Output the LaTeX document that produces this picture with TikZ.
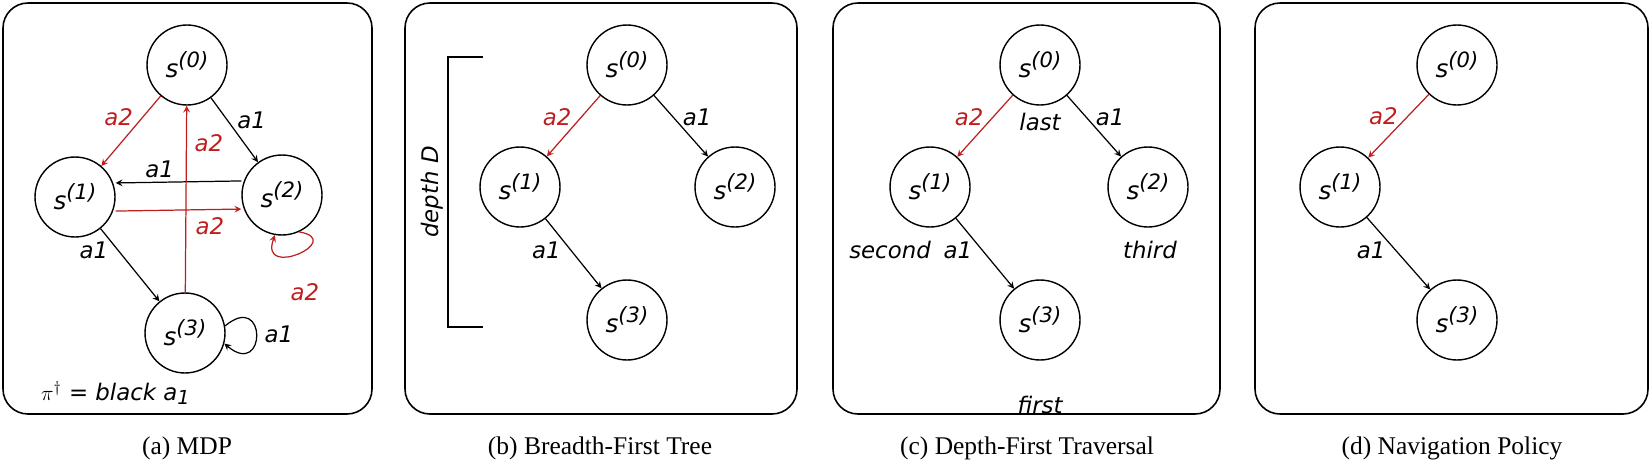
\documentclass[tikz,border=0pt]{standalone}
\usepackage{fontspec}
\setmainfont{Liberation Serif}
\newfontfamily\lbl{DejaVu Sans}
\definecolor{myred}{RGB}{190,30,30}
\begin{document}
\begin{tikzpicture}[x=0.02cm,y=-0.02cm,>=stealth,
  st/.style={draw,circle,line width=0.8pt,minimum size=1.6cm,inner sep=0pt,font=\lbl\itshape\fontsize{14}{14}\selectfont},
  box/.style={draw,rounded corners=0.5cm,line width=0.9pt},
  ed/.style={->,line width=0.7pt},
  rd/.style={ed,draw=myred},
  lb/.style={font=\lbl\itshape\fontsize{13}{13}\selectfont},
  rl/.style={lb,text=myred},
  capt/.style={font=\fontsize{14.5}{14.5}\selectfont}]
\useasboundingbox (0,0) rectangle (1652,470);
\newcommand{\sx}[1]{s\raisebox{0.75ex}{\fontsize{12}{12}\selectfont(#1)}}
\newcommand{\ax}[1]{a\raisebox{-0.3ex}{\fontsize{11}{11}\selectfont #1}}
% (a) MDP
\draw[box] (3,3) rectangle (372,414);
\node[st] (a0) at (187,65) {\sx{0}};
\node[st] (a1) at (75,197) {\sx{1}};
\node[st] (a2) at (282,195) {\sx{2}};
\node[st] (a3) at (185,333) {\sx{3}};
\draw[rd] (a0) -- node[rl,pos=0.3,left=2pt] {a2} (a1);
\draw[ed] (a0) -- node[lb,pos=0.35,right=2pt] {a1} (a2);
\draw[ed] ([yshift=8]a2.west) -- node[lb,pos=0.65,above=-1pt] {a1} ([yshift=8]a1.east);
\draw[rd] ([yshift=-8]a1.east) -- node[rl,pos=0.75,below=1pt] {a2} ([yshift=-8]a2.west);
\draw[rd] (a3) -- node[rl,pos=0.8,right=1pt] {a2} (a0);
\draw[ed] (a1) -- node[lb,pos=0.3,left=2pt] {a1} (a3);
\draw[rd] (a2.-65) to[out=-10,in=-110,looseness=5] (a2.-100);
\node[rl] (la2) at (305,292) {a2};
\draw[ed] (a3.10) to[out=40,in=-40,looseness=8] node[lb,right=1pt] {a1} (a3.-15);
\node[lb,anchor=west] (pa) at (35,393) {$\pi^{\dagger}$ = black \ax{1}};
\node[capt] (ca) at (187,448) {(a) MDP};
% (b) Breadth-First Tree
\draw[box] (405,3) rectangle (797,414);
\node[st] (b0) at (627,65) {\sx{0}};
\node[st] (b1) at (520,187) {\sx{1}};
\node[st] (b2) at (735,187) {\sx{2}};
\node[st] (b3) at (627,320) {\sx{3}};
\draw[rd] (b0) -- node[rl,pos=0.35,left=2pt] {a2} (b1);
\draw[ed] (b0) -- node[lb,pos=0.35,right=2pt] {a1} (b2);
\draw[ed] (b1) -- node[lb,pos=0.45,left=2pt] {a1} (b3);
\coordinate (bt) at (483,57);
\coordinate (bb) at (483,327);
\draw[line width=0.7pt] (bt) -- (448,57) -- (448,327) -- (bb);
\node[lb,rotate=90] (dd) at (432,192) {depth D};
\node[capt] (cb) at (600,448) {(b) Breadth-First Tree};
% (c) Depth-First Traversal
\draw[box] (833,3) rectangle (1220,414);
\node[st] (c0) at (1040,65) {\sx{0}};
\node[st] (c1) at (930,187) {\sx{1}};
\node[st] (c2) at (1148,187) {\sx{2}};
\node[st] (c3) at (1040,320) {\sx{3}};
\draw[rd] (c0) -- node[rl,pos=0.35,left=2pt] {a2} (c1);
\draw[ed] (c0) -- node[lb,pos=0.35,right=2pt] {a1} (c2);
\draw[ed] (c1) -- node[lb,pos=0.45,left=2pt] {a1} (c3);
\node[lb] (cl) at (1040,122) {last};
\node[lb] (cs) at (890,250) {second};
\node[lb] (ct) at (1150,250) {third};
\node[lb] (cf) at (1040,405) {first};
\node[capt] (cc) at (1027,448) {(c) Depth-First Traversal};
% (d) Navigation Policy
\draw[box] (1255,3) rectangle (1648,414);
\node[st] (d0) at (1457,65) {\sx{0}};
\node[st] (d1) at (1340,187) {\sx{1}};
\node[st] (d3) at (1457,320) {\sx{3}};
\draw[rd] (d0) -- node[rl,pos=0.35,left=2pt] {a2} (d1);
\draw[ed] (d1) -- node[lb,pos=0.45,left=2pt] {a1} (d3);
\node[capt] (cd) at (1452,448) {(d) Navigation Policy};
\end{tikzpicture}
\end{document}
